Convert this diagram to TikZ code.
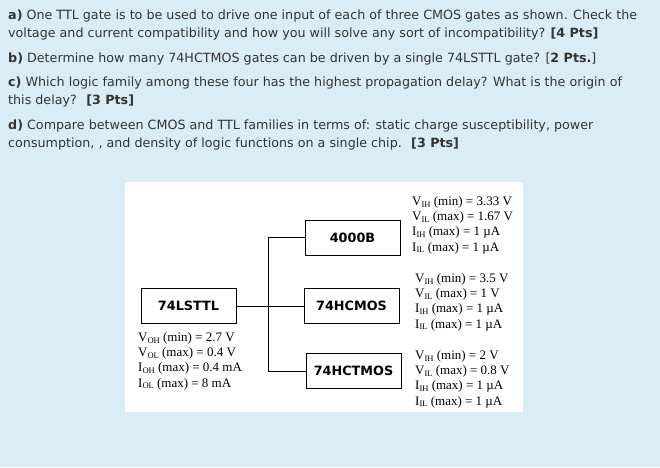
\documentclass[tikz,border=0pt]{standalone}
\usepackage{fontspec}
\setmainfont{Liberation Serif}
\newfontfamily\qfont{DejaVu Sans}
\newfontfamily\boxfont{DejaVu Sans}
\definecolor{pagebg}{RGB}{218,237,247}
\definecolor{qtext}{RGB}{51,51,51}
\newcommand{\lo}[1]{\raisebox{-0.3ex}{\fontsize{8.5}{8.5}\selectfont #1}}

\begin{document}
\begin{tikzpicture}
[x=1pt,y=-1pt]
\tikzset{sq/.style={draw,line width=1pt,minimum width=95pt,minimum height=35pt,font=\boxfont\bfseries\fontsize{12.8}{14}\selectfont}}
\tikzset{spec/.style={anchor=north west,inner sep=0pt,align=left,font=\fontsize{13}{15.3}\selectfont}}
\tikzset{qline/.style={anchor=base west,inner sep=0pt,align=left,text=qtext,font=\qfont\fontsize{12.7}{17.7}\selectfont}}
\useasboundingbox (0,0) rectangle (660,467);
\fill[pagebg] (0,0) rectangle (660,467);
\fill[white] (125,182) rectangle (523,412);

% questions (anchored at the baseline of their last line)
\node [qline] (qa) at (8,37) {\textbf{a)} One TTL gate is to be used to drive one input of each of three CMOS gates as shown. Check the\\voltage and current compatibility and how you will solve any sort of incompatibility? \textbf{[4 Pts]}};
\node [qline] (qb) at (8,62) {\textbf{b)} Determine how many 74HCTMOS gates can be driven by a single 74LSTTL gate? [\textbf{2 Pts.}]};
\node [qline] (qc) at (8,104) {\textbf{c)} Which logic family among these four has the highest propagation delay? What is the origin of\\this delay?~ \textbf{[3 Pts]}};
\node [qline] (qd) at (8,147) {\textbf{d)} Compare between CMOS and TTL families in terms of: static charge susceptibility, power\\consumption, , and density of logic functions on a single chip.~ \textbf{[3 Pts]}};

% gates
\node [sq] (ttl) at (188.5,306) {74LSTTL};
\node [sq] (g1) at (352.5,237.5) {4000B};
\node [sq] (g2) at (351.5,306) {74HCMOS};
\node [sq] (g3) at (353.5,371) {74HCTMOS};
\coordinate (j1) at (268,237.5);
\coordinate (j3) at (268,371);

\foreach \from/\to in {ttl.east/g2.west,j1/g1.west,j3/g3.west,j1/j3}
	\draw [line width=.8pt] (\from) -- (\to);

% data
\node [spec] (sttl) at (138,332) {V\lo{OH} (min) = 2.7 V\\V\lo{OL} (max) = 0.4 V\\I\lo{OH} (max) = 0.4 mA\\I\lo{OL} (max) = 8 mA};
\node [spec] (s1) at (412,196) {V\lo{IH} (min) = 3.33 V\\V\lo{IL} (max) = 1.67 V\\I\lo{IH} (max) = 1 µA\\I\lo{IL} (max) = 1 µA};
\node [spec] (s2) at (415,273) {V\lo{IH} (min) = 3.5 V\\V\lo{IL} (max) = 1 V\\I\lo{IH} (max) = 1 µA\\I\lo{IL} (max) = 1 µA};
\node [spec] (s3) at (415,350) {V\lo{IH} (min) = 2 V\\V\lo{IL} (max) = 0.8 V\\I\lo{IH} (max) = 1 µA\\I\lo{IL} (max) = 1 µA};

\end{tikzpicture}
\end{document}
